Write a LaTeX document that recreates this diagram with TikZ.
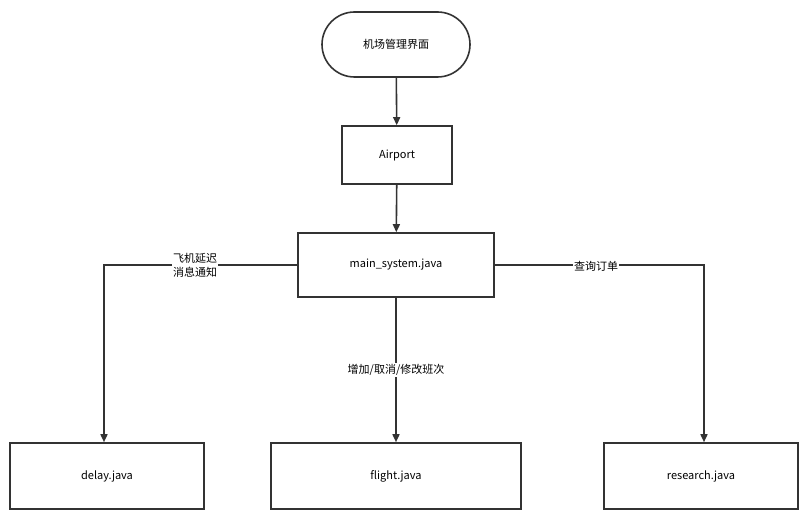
\documentclass[tikz,border=0pt]{standalone}
\usepackage{fontspec}
\setmainfont{Noto Sans CJK SC}
\usetikzlibrary{arrows.meta,shapes.misc}
\begin{document}
\begin{tikzpicture}[x=1pt,y=-1pt,
  box/.style={draw=black!80,line width=1.6pt,fill=white,font=\fontsize{11}{13}\selectfont,inner sep=0pt},
  arr/.style={draw=black!80,line width=1.6pt,-{Triangle[length=8pt,width=7pt]}},
  lab/.style={fill=white,font=\fontsize{11}{14}\selectfont,align=center,inner sep=1pt}]
\useasboundingbox (0,0) rectangle (804,516);
\node[box,rounded rectangle,minimum width=148pt,minimum height=65pt] (top) at (396,44.5) {机场管理界面};
\node[box,minimum width=110pt,minimum height=58pt] (air) at (397,155) {Airport};
\node[box,minimum width=196pt,minimum height=64pt] (main) at (396,265) {main\_system.java};
\node[box,minimum width=194pt,minimum height=66pt] (delay) at (107,476) {delay.java};
\node[box,minimum width=250pt,minimum height=66pt] (flight) at (396,476) {flight.java};
\node[box,minimum width=194pt,minimum height=66pt] (res) at (701,476) {research.java};
\draw[arr] (top) -- (air);
\draw[arr] (air) -- (main);
\draw[arr] (main) -- node[lab,pos=0.5]{增加/取消/修改班次} (flight);
\draw[arr] (main.west) -| (delay.north -| 104,0);
\draw[arr] (main.east) -| (res.north -| 704,0);
\node[lab] (l1) at (195,265) {飞机延迟\\消息通知};
\node[lab] (l2) at (596,266) {查询订单};
\end{tikzpicture}
\end{document}
